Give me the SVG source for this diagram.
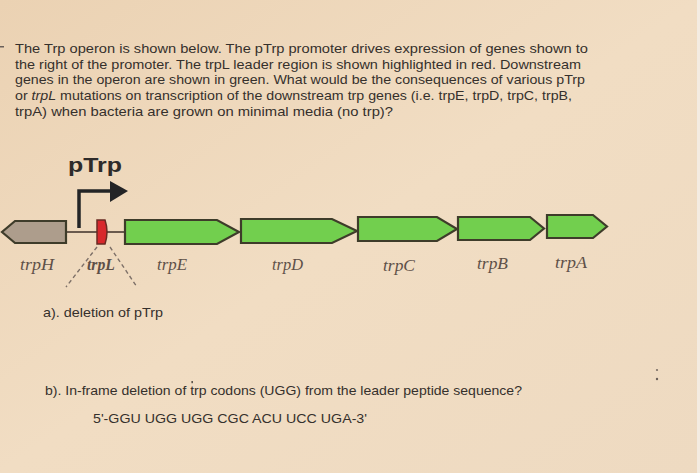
<svg xmlns="http://www.w3.org/2000/svg" width="700" height="473" viewBox="0 0 700 473">
<defs>
<linearGradient id="bg" x1="0" y1="0" x2="1" y2="1">
<stop offset="0" stop-color="#ebd2b3"/>
<stop offset="0.5" stop-color="#f1ddc3"/>
<stop offset="1" stop-color="#eedac1"/>
</linearGradient>
<style>
.q{font-family:"Liberation Sans",Arial,sans-serif;font-size:13.5px;fill:#35302c}
.g{font-family:"Liberation Serif","Times New Roman",serif;font-style:italic;font-size:17px;fill:#5e5048}
.gene{fill:#72cf4e;stroke:#3e3c2a;stroke-width:2.2;stroke-linejoin:miter}
.dash{stroke:#7d7068;stroke-width:1.4;stroke-dasharray:4 3;fill:none}
</style>
</defs>
<rect width="700" height="473" fill="url(#bg)"/>
<rect x="697" y="0" width="3" height="473" fill="#f4ece2"/>
<g id="question">
<rect x="0" y="46" width="4" height="1.5" fill="#6a605a"/>
<text class="q" x="15" y="53" textLength="573" lengthAdjust="spacingAndGlyphs">The Trp operon is shown below. The pTrp promoter drives expression of genes shown to</text>
<text class="q" x="15" y="68.5" textLength="566" lengthAdjust="spacingAndGlyphs">the right of the promoter. The trpL leader region is shown highlighted in red. Downstream</text>
<text class="q" x="15" y="84" textLength="570" lengthAdjust="spacingAndGlyphs">genes in the operon are shown in green. What would be the consequences of various pTrp</text>
<text class="q" x="15" y="100" textLength="557" lengthAdjust="spacingAndGlyphs">or <tspan font-style="italic">trpL</tspan> mutations on transcription of the downstream trp genes (i.e. trpE, trpD, trpC, trpB,</text>
<text class="q" x="15" y="116" textLength="378" lengthAdjust="spacingAndGlyphs">trpA) when bacteria are grown on minimal media (no trp)?</text>
</g>
<g id="promoter">
<text x="68" y="172" font-family="'Liberation Sans',Arial,sans-serif" font-weight="bold" font-size="20" fill="#2e2b2a" textLength="54" lengthAdjust="spacingAndGlyphs">pTrp</text>
<polyline points="79,228 79,191 112,191" fill="none" stroke="#232426" stroke-width="3.5"/>
<polygon points="110,181 128,191 110,202" fill="#232426"/>
</g>
<g id="connectors">
<line x1="66" y1="232" x2="125" y2="232" stroke="#6a5a4e" stroke-width="2"/>
<line class="dash" x1="97" y1="247" x2="66" y2="287"/>
<line class="dash" x1="110" y1="247" x2="137" y2="287"/>
</g>
<g id="trpH">
<polygon points="66,221 66,243 15,243 2,232 15,221" fill="#ad9d8c" stroke="#3e3c2a" stroke-width="2.2"/>
<text class="g" x="20" y="270" textLength="34" lengthAdjust="spacingAndGlyphs">trpH</text>
</g>
<g id="trpL">
<path d="M97,220 L105,220 Q109,232 105,244 L97,244 Z" fill="#d8282c" stroke="#6a2a22" stroke-width="1.5"/>
<text class="g" x="87" y="270" font-weight="bold" textLength="28" lengthAdjust="spacingAndGlyphs">trpL</text>
</g>
<g id="trpE">
<polygon class="gene" points="125,220 217,220 239,232 217,244 125,244"/>
<text class="g" x="157" y="270" textLength="30" lengthAdjust="spacingAndGlyphs">trpE</text>
</g>
<g id="trpD">
<polygon class="gene" points="241,219 332,219 357,231 332,243 241,243"/>
<text class="g" x="272" y="270" textLength="31" lengthAdjust="spacingAndGlyphs">trpD</text>
</g>
<g id="trpC">
<polygon class="gene" points="358,217 437,217 457,229 437,241 358,241"/>
<text class="g" x="383" y="271" textLength="32" lengthAdjust="spacingAndGlyphs">trpC</text>
</g>
<g id="trpB">
<polygon class="gene" points="458,217 530,217 544,228.5 530,240 458,240"/>
<text class="g" x="477" y="269" textLength="31" lengthAdjust="spacingAndGlyphs">trpB</text>
</g>
<g id="trpA">
<polygon class="gene" points="547,215 593,215 607,226.5 593,238 547,238"/>
<text class="g" x="555" y="268" textLength="32" lengthAdjust="spacingAndGlyphs">trpA</text>
</g>
<g id="partA">
<text class="q" x="43" y="317" textLength="120" lengthAdjust="spacingAndGlyphs">a). deletion of pTrp</text>
</g>
<g id="partB">
<text class="q" x="45" y="395" textLength="477" lengthAdjust="spacingAndGlyphs">b). In-frame deletion of trp codons (UGG) from the leader peptide sequence?</text>
<rect x="191.5" y="381" width="1.3" height="2.2" fill="#3b3632"/>
<text class="q" x="93" y="423" textLength="274" lengthAdjust="spacingAndGlyphs">5'-GGU UGG UGG CGC ACU UCC UGA-3'</text>
<circle cx="657" cy="370" r="1.1" fill="#7a6e66"/>
<circle cx="657" cy="379" r="1.2" fill="#6a605a"/>
</g>
</svg>
